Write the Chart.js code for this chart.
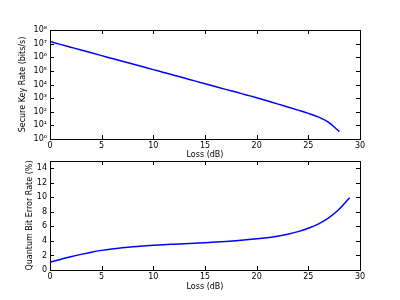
<!DOCTYPE html>
<html>
<head>
<meta charset="utf-8">
<script src="https://cdn.jsdelivr.net/npm/chart.js@4"></script>
<style>
  body { margin: 0; background: #fff; }
  #wrap { position: relative; width: 400px; height: 300px; }
  canvas { position: absolute; left: 0; }
  #rateChart { top: 0; }
  #qberChart { top: 150px; }
</style>
</head>
<body>
<div id="wrap">
  <canvas id="rateChart" width="400" height="165"></canvas>
  <canvas id="qberChart" width="400" height="150"></canvas>
</div>
<script>
// loss (dB) for each sample
var lossRate = [0, 1, 2, 3, 4, 5, 6, 7, 8, 9, 10, 11, 12, 13, 14, 15, 16, 17, 18, 19, 20, 21, 22, 23, 24, 25, 26, 27, 28];
// secure key rate (bits/s)
var keyRate = [1.41e7, 8.8e6, 5.47e6, 3.4e6, 2.12e6, 1.32e6, 8.2e5, 5.1e5, 3.18e5, 1.98e5, 1.23e5, 7.66e4, 4.76e4, 2.96e4, 1.85e4, 1.15e4,
               7.1e3, 4.4e3, 2.77e3, 1.72e3, 1.07e3, 646, 380, 224, 132, 76, 40, 16, 3.5];

var lossQber = [0, 1, 2, 3, 4, 5, 6, 7, 8, 9, 10, 11, 12, 13, 14, 15, 16, 17, 18, 19, 20, 21, 22, 23, 24, 25, 26, 27, 28, 29];
// quantum bit error rate (%)
var qber = [1.06, 1.45, 1.82, 2.15, 2.45, 2.7, 2.9, 3.06, 3.2, 3.31, 3.4, 3.48, 3.55, 3.62, 3.69, 3.76,
            3.84, 3.93, 4.03, 4.15, 4.29, 4.45, 4.65, 4.92, 5.28, 5.75, 6.35, 7.2, 8.4, 9.95];

var lossTicks = [0, 5, 10, 15, 20, 25, 30];
var rateTicks = [1, 10, 100, 1e3, 1e4, 1e5, 1e6, 1e7, 1e8];
var qberTicks = [0, 2, 4, 6, 8, 10, 12, 14];

var sup = ['⁰', '¹', '²', '³', '⁴', '⁵', '⁶', '⁷', '⁸', '⁹'];
var font = { family: 'DejaVu Sans', size: 8 };

// matplotlib style frame with inward ticks on every side
var framePlugin = {
    id: 'frame',
    afterDraw: function (chart) {
        var ctx = chart.ctx;
        var a = chart.chartArea;
        var xs = chart.scales.x, ys = chart.scales.y;
        ctx.save();
        ctx.strokeStyle = '#000';
        ctx.lineWidth = 1;
        ctx.beginPath();
        xs.ticks.forEach(function (t) {
            var px = Math.round(xs.getPixelForValue(t.value)) + 0.5;
            ctx.moveTo(px, a.bottom); ctx.lineTo(px, a.bottom - 4);
            ctx.moveTo(px, a.top); ctx.lineTo(px, a.top + 4);
        });
        ys.ticks.forEach(function (t) {
            var py = Math.round(ys.getPixelForValue(t.value)) + 0.5;
            ctx.moveTo(a.left, py); ctx.lineTo(a.left + 4, py);
            ctx.moveTo(a.right, py); ctx.lineTo(a.right - 4, py);
        });
        ctx.stroke();
        ctx.strokeRect(Math.round(a.left) + 0.5, Math.round(a.top) + 0.5,
                       Math.round(a.right - a.left), Math.round(a.bottom - a.top));
        ctx.restore();
    }
};

function makeChart(id, xs, ys, yScale, yTitle, yTitlePad, xHeight, xTitlePad, top) {
    return new Chart(document.getElementById(id), {
        type: 'line',
        data: {
            datasets: [{
                data: xs.map(function (x, i) { return { x: x, y: ys[i] }; }),
                borderColor: '#0000ff',
                borderWidth: 1.5,
                pointRadius: 0,
                fill: false,
                cubicInterpolationMode: 'monotone'
            }]
        },
        options: {
            responsive: false,
            animation: false,
            plugins: { legend: { display: false }, tooltip: { enabled: false } },
            layout: { padding: { top: top, right: 40, bottom: 0, left: 0 } },
            scales: {
                x: {
                    type: 'linear',
                    min: 0, max: 30,
                    afterBuildTicks: function (s) { s.ticks = lossTicks.map(function (v) { return { value: v }; }); },
                    afterFit: function (s) { s.height = xHeight; },
                    grid: { display: false, drawTicks: false },
                    border: { display: false },
                    ticks: { color: '#000', font: font, padding: 2, maxRotation: 0 },
                    title: { display: true, text: 'Loss (dB)', color: '#000', font: font, padding: { top: 0, bottom: xTitlePad } }
                },
                y: Object.assign({
                    afterFit: function (s) { s.width = 50; },
                    grid: { display: false, drawTicks: false },
                    border: { display: false },
                    title: { display: true, text: yTitle, color: '#000', font: font, padding: { top: yTitlePad, bottom: 0 } }
                }, yScale)
            }
        },
        plugins: [framePlugin]
    });
}

makeChart('rateChart', lossRate, keyRate, {
    type: 'logarithmic',
    min: 1, max: 1e8,
    afterBuildTicks: function (s) { s.ticks = rateTicks.map(function (v) { return { value: v }; }); },
    ticks: {
        color: '#000', font: font, padding: 3,
        callback: function (v) { return '10' + sup[Math.round(Math.log10(v))]; }
    }
}, 'Secure Key Rate (bits/s)', 18, 26, 5, 30);

makeChart('qberChart', lossQber, qber, {
    type: 'linear',
    min: 0, max: 15,
    afterBuildTicks: function (s) { s.ticks = qberTicks.map(function (v) { return { value: v }; }); },
    ticks: { color: '#000', font: font, padding: 3 }
}, 'Quantum Bit Error Rate (%)', 25, 30, 8.5, 11);
</script>
</body>
</html>
